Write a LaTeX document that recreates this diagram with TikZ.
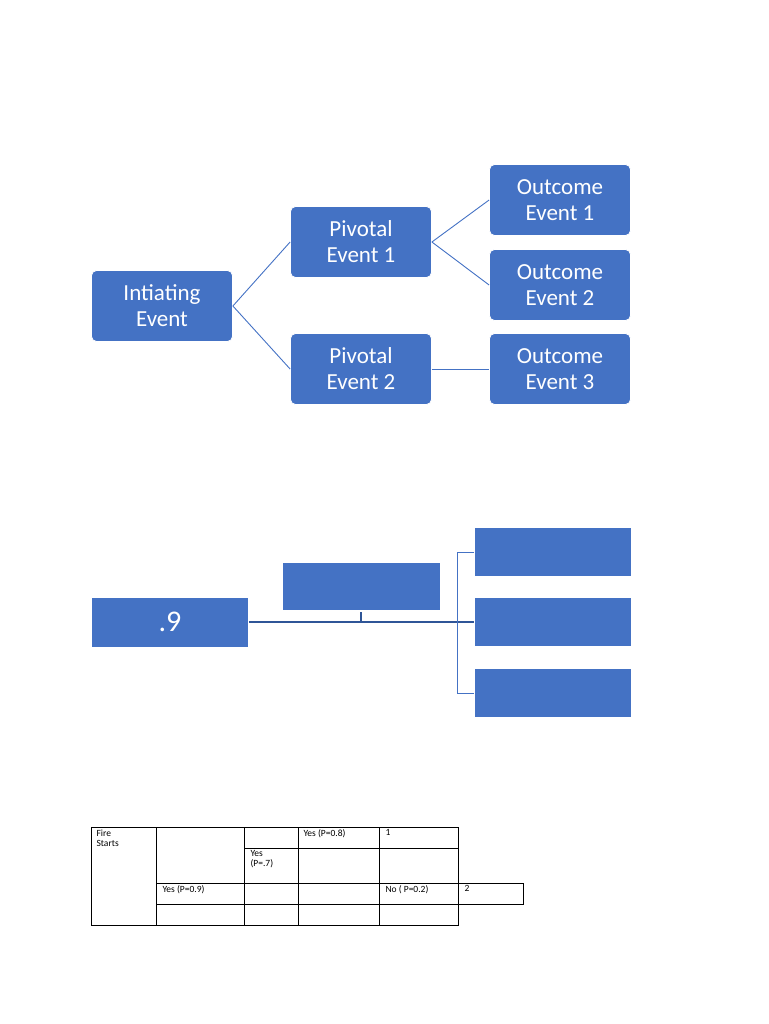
\documentclass[tikz,border=0pt]{standalone}
\usepackage{fontspec}
\setmainfont{Carlito}
\begin{document}
\begin{tikzpicture}[x=1pt,y=-1pt,
 rbox/.style={fill=blue!55!cyan!45!black!0, rounded corners=4pt},
 bl/.style={fill={rgb,255:red,68;green,114;blue,196}, draw=white, line width=0.8pt},
 tx/.style={font=\fontsize{23}{26}\selectfont, text=white, align=center},
 ln/.style={draw={rgb,255:red,68;green,114;blue,196}, line width=0.9pt},
 ln2/.style={draw={rgb,255:red,47;green,85;blue,151}, line width=1.4pt},
 tl/.style={line width=0.6pt},
 tt/.style={font=\fontsize{9.5}{11}\selectfont, anchor=north west, align=left}]
\useasboundingbox (0,0) rectangle (768,1024);
% top diagram
\foreach \n/\x/\y/\t in {ie/162/306/{Intiating\\Event}, p1/361/242/{Pivotal\\Event 1}, p2/361/369/{Pivotal\\Event 2}, o1/560/200/{Outcome\\Event 1}, o2/560/285/{Outcome\\Event 2}, o3/560/369/{Outcome\\Event 3}}
 \node[bl, rounded corners=5pt, minimum width=141pt, minimum height=71pt, tx] (\n) at (\x,\y) {\t};
\draw[ln] (ie.east) -- (p1.west);
\draw[ln] (ie.east) -- (p2.west);
\draw[ln] (p1.east) -- (o1.west);
\draw[ln] (p1.east) -- (o2.west);
\draw[ln] (p2.east) -- (o3.west);
% middle diagram
\node[bl, minimum width=157pt, minimum height=50pt, tx, font=\fontsize{30}{32}\selectfont] (n9) at (170,622) {.9};
\node[bl, minimum width=158pt, minimum height=48pt] (mb) at (361,586) {};
\node[bl, minimum width=157pt, minimum height=49pt] (r1) at (553,552) {};
\node[bl, minimum width=157pt, minimum height=49pt] (r2) at (553,622) {};
\node[bl, minimum width=157pt, minimum height=49pt] (r3) at (553,693) {};
\coordinate (t) at (361,612);
\draw[ln2] (n9.east) -- (r2.west);
\draw[ln2] (t) -- (361,622);
\draw[ln] (r1.west) -- (457,552) -- (457,693) -- (r3.west);
% table
\draw[tl] (91,827) rectangle (458,925);
\foreach \x in {156,244,298,379} \draw[tl] (\x,827) -- (\x,925);
\draw[tl] (244,848) -- (458,848);
\draw[tl] (156,883) -- (523,883) -- (523,904) -- (156,904);
\node[tt] (c1) at (93,826) {Fire\\[-1pt]Starts};
\node[tt] (c2) at (300,826) {Yes (P=0.8)};
\node[tt] (c3) at (382,826) {1};
\node[tt] (c4) at (247,847) {Yes\\[-1pt](P=.7)};
\node[tt] (c5) at (159,882) {Yes (P=0.9)};
\node[tt] (c6) at (382,882) {No ( P=0.2)};
\node[tt] (c7) at (461,882) {2};
\end{tikzpicture}
\end{document}
